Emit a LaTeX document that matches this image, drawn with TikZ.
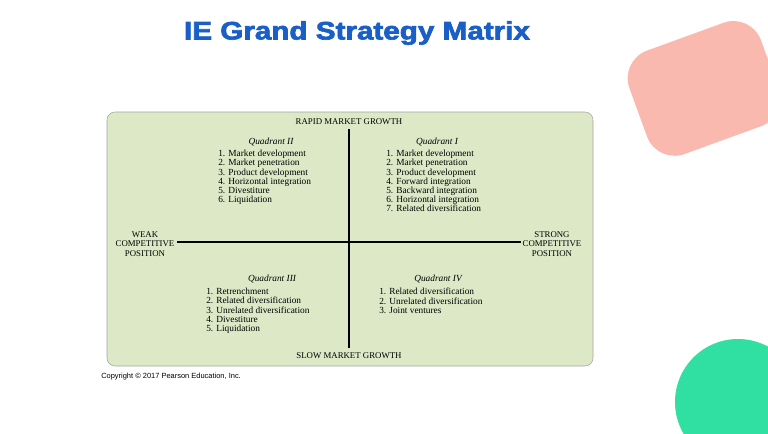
\documentclass[tikz,border=0pt]{standalone}
\usepackage{fontspec}
\setmainfont{Liberation Serif}
\newfontfamily\hfont{Liberation Sans}
\newfontfamily\tfont[FakeBold=2.5]{Liberation Sans Bold}
\definecolor{panel}{HTML}{DCE8C6}
\definecolor{ttl}{HTML}{1A5FC8}
\definecolor{pinkc}{HTML}{F9B9AF}
\definecolor{greenc}{HTML}{2FE0A2}
\tikzset{
  lst/.style={anchor=north west,align=left,inner sep=0pt,font=\fontsize{7}{6.9}\selectfont},
  hdr/.style={inner sep=0pt,font=\fontsize{7}{7}\selectfont\itshape},
  axl/.style={inner sep=0pt,align=center,font=\fontsize{6.6}{7.2}\selectfont}
}
\begin{document}
\begin{tikzpicture}[x=0.75pt,y=-0.75pt]
\useasboundingbox (0,0) rectangle (768,433);
\fill[white] (0,0) rectangle (768,433);
\fill[pinkc,rounded corners=22pt,rotate around={20:(700,92)}] (635,35) rectangle (775,145);
\fill[greenc] (738,402) circle (63);
\node[font=\tfont\fontsize{19}{21}\selectfont,text=ttl,xscale=1.17] (title) at (357,33) {IE Grand Strategy Matrix};
\filldraw[fill=panel,draw=black!35,rounded corners=6pt] (107,112) rectangle (593,366);
\coordinate (top) at (349,129);
\coordinate (bot) at (349,348);
\coordinate (lft) at (177,242);
\coordinate (rgt) at (521,242);
\draw[line width=1pt] (top) -- (bot);
\draw[line width=1pt] (lft) -- (rgt);
\node[axl] (rapid) at (349,122) {RAPID MARKET GROWTH};
\node[axl] (slow) at (349,356) {SLOW MARKET GROWTH};
\node[axl] (weak) at (145,244) {WEAK\\COMPETITIVE\\POSITION};
\node[axl] (strong) at (552,244) {STRONG\\COMPETITIVE\\POSITION};
\node[hdr] (q2) at (271,142) {Quadrant II};
\node[lst] (l2) at (218,150) {1. Market development\\2. Market penetration\\3. Product development\\4. Horizontal integration\\5. Divestiture\\6. Liquidation};
\node[hdr] (q1) at (437,142) {Quadrant I};
\node[lst] (l1) at (386,150) {1. Market development\\2. Market penetration\\3. Product development\\4. Forward integration\\5. Backward integration\\6. Horizontal integration\\7. Related diversification};
\node[hdr] (q3) at (272,279) {Quadrant III};
\node[lst] (l3) at (206,288) {1. Retrenchment\\2. Related diversification\\3. Unrelated diversification\\4. Divestiture\\5. Liquidation};
\node[hdr] (q4) at (438,279) {Quadrant IV};
\node[lst] (l4) at (379,288) {1. Related diversification\\2. Unrelated diversification\\3. Joint ventures};
\node[anchor=west,inner sep=0pt,font=\hfont\fontsize{5.6}{6}\selectfont] (copy) at (101,377) {Copyright © 2017 Pearson Education, Inc.};
\end{tikzpicture}
\end{document}
